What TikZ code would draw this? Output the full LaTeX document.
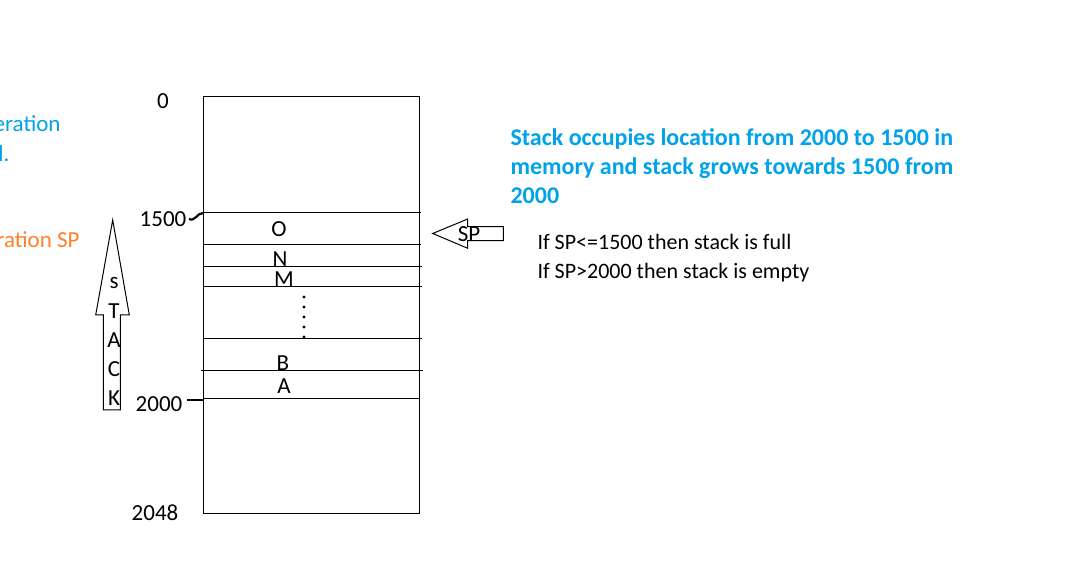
\documentclass[tikz,border=0pt]{standalone}
\usepackage{fontspec}
\setmainfont{Carlito}
\definecolor{paintblue}{RGB}{0,162,232}
\definecolor{paintorange}{RGB}{255,127,39}
\tikzset{%
  cell label/.style={inner sep=0pt, font=\fontsize{23}{27}\selectfont},
  addr label/.style={inner sep=0pt, font=\fontsize{23}{27}\selectfont},
  note line/.style={inner sep=0pt, anchor=base west, font=\fontsize{22}{26}\selectfont},
  blue line/.style={note line, text=paintblue, font=\fontsize{24}{28}\bfseries},
  cut line/.style={inner sep=0pt, anchor=base east, font=\fontsize{23}{27}\selectfont},
  hollow arrow/.style={draw, fill=white, line width=1pt},
  mark tick/.style={line width=2.4pt},
}
\begin{document}
\begin{tikzpicture}[x=1pt,y=-1pt,line width=1pt]
  \useasboundingbox (0,0) rectangle (1069,561);
  % memory block
  \node[draw, inner sep=0pt, minimum width=216pt, minimum height=417pt,
    anchor=north west] (mem) at (203,96) {};
  % cell boundaries
  \foreach \y/\xa/\xb in {213/203/421, 245/203/421, 267/203/422,
    287/203/422, 339/203/422, 371/201/423, 399/203/419} {
    \draw (\xa,\y) -- (\xb,\y);
  }
  % cell contents
  \node[cell label] (cellO) at (279,229) {O};
  \node[cell label] (cellN) at (280,259) {N};
  \node[cell label] (cellM) at (284,279) {M};
  \node[cell label] (cellB) at (283,363) {B};
  \node[cell label] (cellA) at (284,386) {A};
  \foreach \y in {297,307,317,327,337} {
    \fill (304,\y) circle (1.6);
  }
  % addresses
  \node[addr label] (addr0) at (163,101) {0};
  \node[addr label] (addr1500) at (163,219) {1500};
  \node[addr label] (addr2000) at (159,404) {2000};
  \node[addr label] (addr2048) at (155,513) {2048};
  \draw[line width=2.2pt] (189,219)
    .. controls +(6,3) and +(-6,0) .. (203,213);
  \draw[mark tick] (187,400) -- (203,400);
  % stack growth arrow
  \draw[hollow arrow] (112.7,220) -- (129.3,315) -- (120.3,315)
    -- (120.3,410) -- (103.3,410) -- (103.3,315) -- (95.7,315) -- cycle;
  \foreach \c/\y in {s/283, T/311, A/340, C/369, K/398} {
    \node[cell label] (stack\c) at (114,\y) {\c};
  }
  % stack pointer arrow
  \draw[hollow arrow] (432.7,233.5) -- (467.7,219) -- (467.7,226.7)
    -- (503.3,226.7) -- (503.3,240.7) -- (467.7,240.7) -- (467.7,248.3) -- cycle;
  \node[cell label] (sp) at (469,234) {SP};
  % notes
  \node[blue line] (noteA) at (510,146)
    {Stack occupies location from 2000 to 1500 in};
  \node[blue line] (noteB) at (510,175)
    {memory and stack grows towards 1500 from};
  \node[blue line] (noteC) at (510,204) {2000};
  \node[note line] (full) at (537,250) {If SP<=1500 then stack is full};
  \node[note line] (empty) at (537,279) {If SP>2000 then stack is empty};
  % text cut off at the left edge
  \node[cut line, text=paintblue] (cutA) at (61,132) {eration};
  \node[cut line, text=paintblue] (cutB) at (10,162) {l.};
  \node[cut line, text=paintorange] (cutC) at (80,248) {ration SP};
\end{tikzpicture}
\end{document}
